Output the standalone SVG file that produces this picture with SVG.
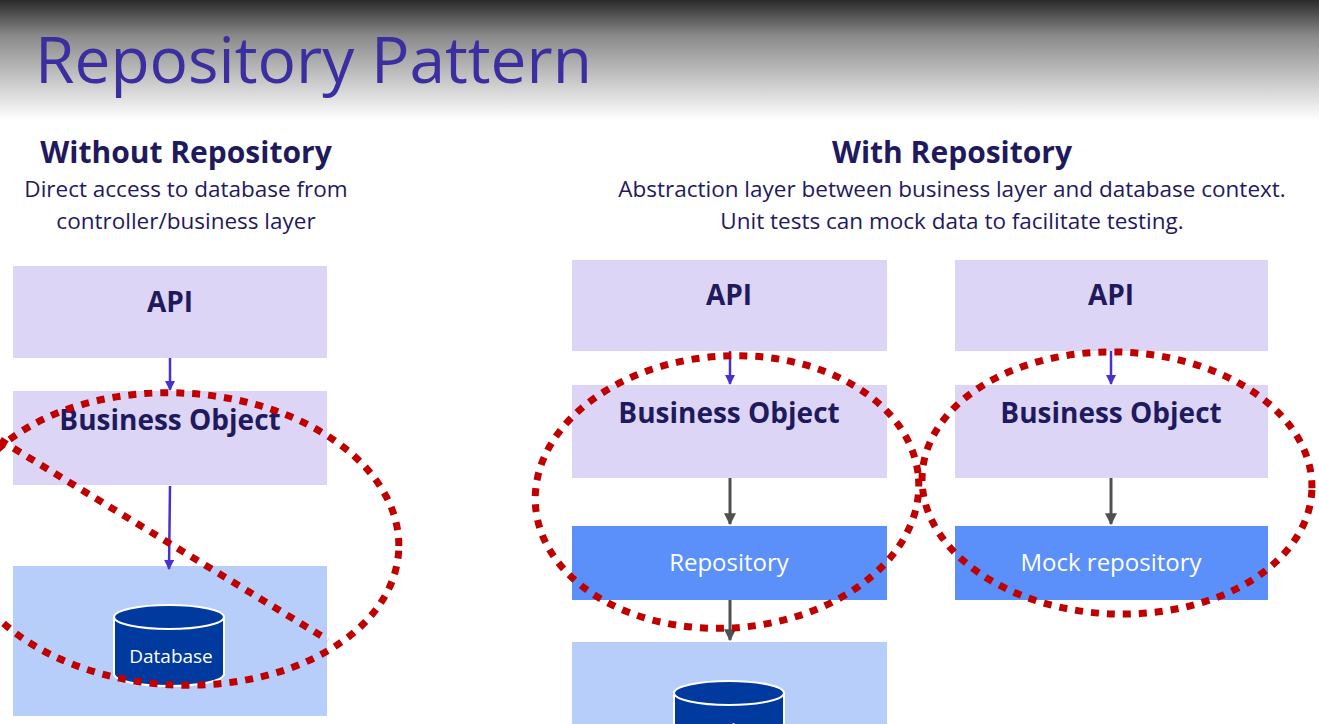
<svg xmlns="http://www.w3.org/2000/svg" width="1319" height="724" viewBox="0 0 1319 724">
<defs>
<linearGradient id="top" x1="0" y1="0" x2="0" y2="1"><stop offset="0" stop-color="#2a2a2a"/><stop offset="0.3" stop-color="#8a8a8a"/><stop offset="1" stop-color="#ffffff"/></linearGradient>
<marker id="ap" viewBox="0 0 10 10" refX="9" refY="5" markerWidth="4" markerHeight="4" orient="auto"><path d="M0,0L10,5L0,10z" fill="#4b30d0"/></marker>
<marker id="ag" viewBox="0 0 10 10" refX="9" refY="5" markerWidth="4" markerHeight="4" orient="auto"><path d="M0,0L10,5L0,10z" fill="#505050"/></marker>
<style>
text{font-family:"Open Sans","Noto Sans",sans-serif}
.lav{fill:#dcd5f5}.lb{fill:#b7cdfa}.blue{fill:#5b8ff9}
.nt{font-size:28px;font-weight:bold;fill:#1f1a5e;text-anchor:middle}
.wt{font-size:24px;fill:#fff;text-anchor:middle}
.h{font-size:30px;font-weight:bold;fill:#1f1a5e;text-anchor:middle}
.s{font-size:22.5px;fill:#1f1a5e;text-anchor:middle}
.pa{stroke:#4b30d0;stroke-width:2.5;fill:none;marker-end:url(#ap)}
.ga{stroke:#505050;stroke-width:3;fill:none;marker-end:url(#ag)}
.red{fill:none;stroke:#c00000;stroke-width:7;stroke-dasharray:8 8}
.cyl{fill:#003a9e;stroke:#fff;stroke-width:2}
</style>
</defs>
<rect width="1319" height="724" fill="#fff"/>
<rect width="1319" height="120" fill="url(#top)"/>
<text x="35" y="83" font-size="64" fill="#3b2fa0">Repository Pattern</text>
<text class="h" x="186" y="163">Without Repository</text>
<text class="s" x="186" y="197">Direct access to database from</text>
<text class="s" x="186" y="229">controller/business layer</text>
<text class="h" x="952" y="163">With Repository</text>
<text class="s" x="952" y="197">Abstraction layer between business layer and database context.</text>
<text class="s" x="952" y="229">Unit tests can mock data to facilitate testing.</text>
<g id="api1"><rect class="lav" x="13" y="266" width="314" height="92"/><text class="nt" x="170" y="312">API</text></g>
<g id="bo1"><rect class="lav" x="13" y="391" width="314" height="94"/><text class="nt" x="170" y="430">Business Object</text></g>
<g id="db1"><rect class="lb" x="13" y="566" width="314" height="150"/>
<path class="cyl" d="M114,617 V674 A55,12 0 0 0 224,674 V617"/><ellipse class="cyl" cx="169" cy="617" rx="55" ry="12"/>
<text x="171" y="663" font-size="19" fill="#fff" text-anchor="middle">Database</text></g>
<g id="api2"><rect class="lav" x="572" y="260" width="315" height="91"/><text class="nt" x="729" y="305">API</text></g>
<g id="bo2"><rect class="lav" x="572" y="385" width="315" height="93"/><text class="nt" x="729" y="423">Business Object</text></g>
<g id="repo"><rect class="blue" x="572" y="526" width="315" height="74"/><text class="wt" x="729" y="571">Repository</text></g>
<g id="db2"><rect class="lb" x="572" y="642" width="315" height="90"/>
<path class="cyl" d="M674,693 V750 A55,12 0 0 0 784,750 V693"/><ellipse class="cyl" cx="729" cy="693" rx="55" ry="12"/>
<text x="731" y="737" font-size="19" fill="#fff" text-anchor="middle">Database</text></g>
<g id="api3"><rect class="lav" x="955" y="260" width="313" height="91"/><text class="nt" x="1111" y="305">API</text></g>
<g id="bo3"><rect class="lav" x="955" y="385" width="313" height="93"/><text class="nt" x="1111" y="423">Business Object</text></g>
<g id="mock"><rect class="blue" x="955" y="526" width="313" height="74"/><text class="wt" x="1111" y="571">Mock repository</text></g>
<g id="connectors">
<line class="pa" x1="170" y1="358" x2="170" y2="390"/>
<line class="pa" x1="170" y1="486" x2="169" y2="569"/>
<line class="pa" x1="730" y1="351" x2="730" y2="384"/>
<line class="ga" x1="730" y1="478" x2="730" y2="524"/>
<line class="ga" x1="730" y1="600" x2="730" y2="640"/>
<line class="pa" x1="1111" y1="351" x2="1111" y2="384"/>
<line class="ga" x1="1111" y1="478" x2="1111" y2="524"/>
</g>
<g id="marks">
<ellipse class="red" cx="178" cy="539" rx="221" ry="146" transform="rotate(3 178 539)"/>
<line class="red" x1="0" y1="440" x2="328" y2="640"/>
<ellipse class="red" cx="727" cy="492" rx="192" ry="136" transform="rotate(-4 727 492)"/>
<ellipse class="red" cx="1117" cy="483" rx="195" ry="131" transform="rotate(2 1117 483)"/>
</g>
</svg>
